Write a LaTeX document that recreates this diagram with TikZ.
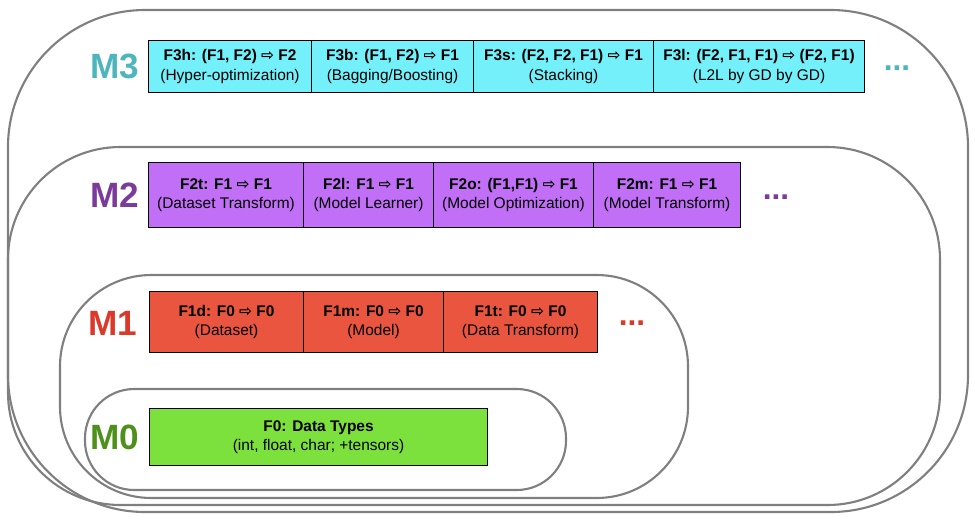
\documentclass[tikz,border=0pt]{standalone}
\usepackage{fontspec}
\setmainfont{Liberation Sans}
\newfontfamily\arrfont{DejaVu Sans}
\newcommand{\ar}{{\arrfont\symbol{"21E8}}}
\definecolor{cyanbox}{HTML}{74F0FA}
\definecolor{purplebox}{HTML}{C26FF7}
\definecolor{redbox}{HTML}{E9553F}
\definecolor{greenbox}{HTML}{7DE13D}
\definecolor{mthree}{HTML}{4DB6BC}
\definecolor{mtwo}{HTML}{7B3B9B}
\definecolor{mone}{HTML}{D93A29}
\definecolor{mzero}{HTML}{4F8F1C}
\definecolor{ring}{HTML}{7F7F7F}
\begin{document}
\begin{tikzpicture}[x=0.02cm,y=-0.02cm,
  ring/.style={draw=ring,line width=1.2pt},
  cell/.style={draw=black,line width=0.6pt,anchor=north west,inner sep=0pt,
    align=center,font=\fontsize{8.8}{11}\selectfont},
  level/.style={font=\fontsize{20}{22}\selectfont\bfseries},
  more/.style={font=\fontsize{18}{20}\selectfont\bfseries}]
\useasboundingbox (0,0) rectangle (975,522);
% nested levels
\draw[ring,rounded corners=78pt] (8,10) rectangle (968,512);
\draw[ring,rounded corners=64pt] (8,147) rectangle (940,505);
\draw[ring,rounded corners=52pt] (60,275) rectangle (688,498);
\draw[ring,rounded corners=28pt] (85,389) rectangle (566,490);
% M3
\node[level,text=mthree] (m3) at (115,66) {M3};
\node[cell,fill=cyanbox,minimum width=163*0.02cm,minimum height=52*0.02cm] (f3h) at (148,40) {\textbf{F3h: (F1, F2) \ar\ F2}\\(Hyper-optimization)};
\node[cell,fill=cyanbox,minimum width=162*0.02cm,minimum height=52*0.02cm] (f3b) at (311,40) {\textbf{F3b: (F1, F2) \ar\ F1}\\(Bagging/Boosting)};
\node[cell,fill=cyanbox,minimum width=180*0.02cm,minimum height=52*0.02cm] (f3s) at (473,40) {\textbf{F3s: (F2, F2, F1) \ar\ F1}\\(Stacking)};
\node[cell,fill=cyanbox,minimum width=211*0.02cm,minimum height=52*0.02cm] (f3l) at (653,40) {\textbf{F3l: (F2, F1, F1) \ar\ (F2, F1)}\\(L2L by GD by GD)};
\node[more,text=mthree] (d3) at (897,68) {...};
% M2
\node[level,text=mtwo] (m2) at (115,195) {M2};
\node[cell,fill=purplebox,minimum width=155*0.02cm,minimum height=65*0.02cm] (f2t) at (148,162) {\textbf{F2t: F1 \ar\ F1}\\(Dataset Transform)};
\node[cell,fill=purplebox,minimum width=130*0.02cm,minimum height=65*0.02cm] (f2l) at (303,162) {\textbf{F2l: F1 \ar\ F1}\\(Model Learner)};
\node[cell,fill=purplebox,minimum width=160*0.02cm,minimum height=65*0.02cm] (f2o) at (433,162) {\textbf{F2o: (F1,F1) \ar\ F1}\\(Model Optimization)};
\node[cell,fill=purplebox,minimum width=147*0.02cm,minimum height=65*0.02cm] (f2m) at (593,162) {\textbf{F2m: F1 \ar\ F1}\\(Model Transform)};
\node[more,text=mtwo] (d2) at (776,197) {...};
% M1
\node[level,text=mone] (m1) at (113,323) {M1};
\node[cell,fill=redbox,minimum width=154*0.02cm,minimum height=61*0.02cm] (f1d) at (149,291) {\textbf{F1d: F0 \ar\ F0}\\(Dataset)};
\node[cell,fill=redbox,minimum width=140*0.02cm,minimum height=61*0.02cm] (f1m) at (303,291) {\textbf{F1m: F0 \ar\ F0}\\(Model)};
\node[cell,fill=redbox,minimum width=154*0.02cm,minimum height=61*0.02cm] (f1t) at (443,291) {\textbf{F1t: F0 \ar\ F0}\\(Data Transform)};
\node[more,text=mone] (d1) at (632,323) {...};
% M0
\node[level,text=mzero] (m0) at (115,437) {M0};
\node[cell,fill=greenbox,minimum width=338*0.02cm,minimum height=57*0.02cm] (f0) at (149,408) {\textbf{F0: Data Types}\\(int, float, char; +tensors)};
\end{tikzpicture}
\end{document}
